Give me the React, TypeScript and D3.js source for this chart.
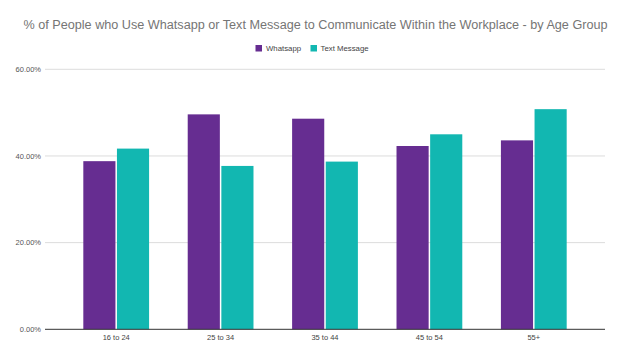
import React from "react";
import * as d3 from "d3";

const categories = ["16 to 24", "25 to 34", "35 to 44", "45 to 54", "55+"];
const whatsapp = [38.8, 49.6, 48.6, 42.3, 43.6];
const textMessage = [41.7, 37.7, 38.7, 45.0, 50.8];
const yTicks = [0, 20, 40, 60];
const seriesNames = ["Whatsapp", "Text Message"];
const colors = ["#662d91", "#12b7b1"];

const W = 622;
const H = 358;
const left = 45;
const right = 605;
const top = 69.3;
const bottom = 329.3;

export default function App() {
  const x = d3.scaleBand<string>().domain(categories).range([left, right]).paddingInner(0.37).paddingOuter(0.367);
  const y = d3.scaleLinear().domain([0, 60]).range([bottom, top]);
  const series = [whatsapp, textMessage];
  const gap = 1.5;
  const barW = (x.bandwidth() - gap) / 2;
  const font = "'Liberation Sans', Arial, sans-serif";
  return (
    <svg width={W} height={H} style={{ position: "absolute", left: 0, top: 0, background: "#fff" }}>
      <rect width={W} height={H} fill="#fff" />
      <text x={315.5} y={29} textAnchor="middle" fontFamily={font} fontSize={12.65} fill="#757575">
        % of People who Use Whatsapp or Text Message to Communicate Within the Workplace - by Age Group
      </text>
      {/* legend */}
      <g fontFamily={font} fontSize={7.8} fill="#444">
        <rect x={255.5} y={45} width={6.5} height={6.5} fill={colors[0]} />
        <text x={266} y={51}>{seriesNames[0]}</text>
        <rect x={310.5} y={45} width={6.5} height={6.5} fill={colors[1]} />
        <text x={320.5} y={51}>{seriesNames[1]}</text>
      </g>
      {yTicks.map((t) => (
        <g key={t}>
          {t !== 0 && <line x1={left} x2={right} y1={y(t)} y2={y(t)} stroke="#dcdcdc" strokeWidth={1} />}
          <text x={41} y={y(t) + 2.7} textAnchor="end" fontFamily={font} fontSize={7.5} fill="#555">
            {t.toFixed(2)}%
          </text>
        </g>
      ))}
      {categories.map((c, i) => (
        <g key={c}>
          {series.map((s, j) => (
            <rect
              key={j}
              x={(x(c) as number) + j * (barW + gap)}
              y={y(s[i])}
              width={barW}
              height={bottom - y(s[i])}
              fill={colors[j]}
            />
          ))}
          <text
            x={(x(c) as number) + x.bandwidth() / 2}
            y={340}
            textAnchor="middle"
            fontFamily={font}
            fontSize={7.5}
            fill="#444"
          >
            {c}
          </text>
        </g>
      ))}
      <line x1={left} x2={right} y1={bottom} y2={bottom} stroke="#333" strokeWidth={1} />
    </svg>
  );
}
